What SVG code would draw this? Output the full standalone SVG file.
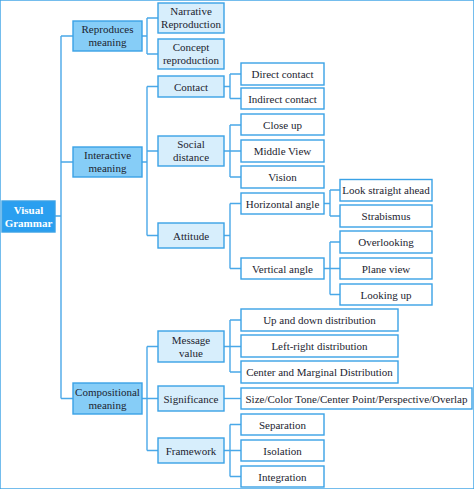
<svg xmlns="http://www.w3.org/2000/svg" width="474" height="489" viewBox="0 0 474 489">
<style>
rect{stroke:#3aa2e6;stroke-width:1.4}
.root{fill:#2a9ff0}
.l1{fill:#86cdf7}
.l2{fill:#d7eefc}
.lf{fill:#ffffff}
text{font-family:"Liberation Serif","Times New Roman",serif;font-size:11px;fill:#1c2430;text-anchor:middle}
.rt{fill:#ffffff;font-weight:bold}
#connectors path{fill:none;stroke:#4aa8e8;stroke-width:1.4}
</style>
<rect width="474" height="489" fill="#ffffff" stroke="none"/>
<g id="connectors">
<path d="M55 216H61M61 36V398.5M61 36H73M61 162H73M61 398.5H73"/>
<path d="M142 36H147M147 18V54M147 18H158M147 54H158"/>
<path d="M142 162H147M147 86.5V235.5M147 86.5H158M147 151H158M147 235.5H158"/>
<path d="M224 86.5H230M230 74V98.5M230 74H241M230 98.5H241"/>
<path d="M224 151H230M230 125V177M230 125H241M230 151H241M230 177H241"/>
<path d="M224 235.5H230M230 203.5V268.5M230 203.5H241M230 268.5H241"/>
<path d="M324 203.5H330M330 190V216M330 190H340M330 216H340"/>
<path d="M324 268.5H330M330 242V294.5M330 242H340M330 268.5H340M330 294.5H340"/>
<path d="M142 398.5H147M147 346.5V450.5M147 346.5H158M147 398.5H158M147 450.5H158"/>
<path d="M224 346.5H230M230 320V372M230 320H241M230 346.5H241M230 372H241"/>
<path d="M224 398.5H241"/>
<path d="M224 450.5H230M230 424.5V476.5M230 424.5H241M230 450.5H241M230 476.5H241"/>
</g>
<g id="visual-grammar"><rect class="root" x="2" y="201" width="53" height="31"/><text class="rt" x="28.5" y="213.5">Visual</text><text class="rt" x="28.5" y="226.5">Grammar</text></g>
<g id="reproduces-meaning"><rect class="l1" x="73" y="21" width="69" height="30"/><text x="107.5" y="33">Reproduces</text><text x="107.5" y="46">meaning</text></g>
<g id="interactive-meaning"><rect class="l1" x="73" y="147" width="69" height="30"/><text x="107.5" y="159">Interactive</text><text x="107.5" y="172">meaning</text></g>
<g id="compositional-meaning"><rect class="l1" x="73" y="383" width="69" height="31"/><text x="107.5" y="395.5">Compositional</text><text x="107.5" y="408.5">meaning</text></g>
<g id="narrative-reproduction"><rect class="l2" x="158" y="3" width="66" height="30"/><text x="191" y="15">Narrative</text><text x="191" y="28">Reproduction</text></g>
<g id="concept-reproduction"><rect class="l2" x="158" y="39" width="66" height="30"/><text x="191" y="51">Concept</text><text x="191" y="64">reproduction</text></g>
<g id="contact"><rect class="l2" x="158" y="76" width="66" height="21"/><text x="191" y="90.5">Contact</text></g>
<g id="social-distance"><rect class="l2" x="158" y="136" width="66" height="30"/><text x="191" y="148">Social</text><text x="191" y="161">distance</text></g>
<g id="attitude"><rect class="l2" x="158" y="223" width="66" height="25"/><text x="191" y="239.5">Attitude</text></g>
<g id="message-value"><rect class="l2" x="158" y="331" width="66" height="31"/><text x="191" y="343.5">Message</text><text x="191" y="356.5">value</text></g>
<g id="significance"><rect class="l2" x="158" y="386" width="66" height="25"/><text x="191" y="402.5">Significance</text></g>
<g id="framework"><rect class="l2" x="158" y="438" width="66" height="25"/><text x="191" y="454.5">Framework</text></g>
<g id="direct-contact"><rect class="lf" x="241" y="63" width="83" height="22"/><text x="282.5" y="78">Direct contact</text></g>
<g id="indirect-contact"><rect class="lf" x="241" y="88" width="83" height="21"/><text x="282.5" y="102.5">Indirect contact</text></g>
<g id="close-up"><rect class="lf" x="241" y="114" width="83" height="21"/><text x="282.5" y="128.5">Close up</text></g>
<g id="middle-view"><rect class="lf" x="241" y="140" width="83" height="22"/><text x="282.5" y="155">Middle View</text></g>
<g id="vision"><rect class="lf" x="241" y="166" width="83" height="22"/><text x="282.5" y="181">Vision</text></g>
<g id="horizontal-angle"><rect class="lf" x="241" y="193" width="83" height="21"/><text x="282.5" y="207.5">Horizontal angle</text></g>
<g id="vertical-angle"><rect class="lf" x="241" y="258" width="83" height="21"/><text x="282.5" y="272.5">Vertical angle</text></g>
<g id="look-straight-ahead"><rect class="lf" x="340" y="179.5" width="92" height="21.5"/><text x="386" y="194">Look straight ahead</text></g>
<g id="strabismus"><rect class="lf" x="340" y="205" width="92" height="22"/><text x="386" y="220">Strabismus</text></g>
<g id="overlooking"><rect class="lf" x="340" y="231" width="92" height="22"/><text x="386" y="246">Overlooking</text></g>
<g id="plane-view"><rect class="lf" x="340" y="258" width="92" height="21"/><text x="386" y="272.5">Plane view</text></g>
<g id="looking-up"><rect class="lf" x="340" y="284" width="92" height="21"/><text x="386" y="298.5">Looking up</text></g>
<g id="up-and-down-distribution"><rect class="lf" x="241" y="309" width="157" height="22"/><text x="319.5" y="324">Up and down distribution</text></g>
<g id="left-right-distribution"><rect class="lf" x="241" y="335" width="157" height="22"/><text x="319.5" y="350">Left-right distribution</text></g>
<g id="center-marginal-distribution"><rect class="lf" x="241" y="361" width="157" height="22"/><text x="319.5" y="376">Center and Marginal Distribution</text></g>
<g id="size-color"><rect class="lf" x="241" y="388" width="231" height="21"/><text x="356.5" y="402.5">Size/Color Tone/Center Point/Perspective/Overlap</text></g>
<g id="separation"><rect class="lf" x="241" y="414" width="83" height="21"/><text x="282.5" y="428.5">Separation</text></g>
<g id="isolation"><rect class="lf" x="241" y="440" width="83" height="21"/><text x="282.5" y="454.5">Isolation</text></g>
<g id="integration"><rect class="lf" x="241" y="466" width="83" height="21"/><text x="282.5" y="480.5">Integration</text></g>
</svg>
